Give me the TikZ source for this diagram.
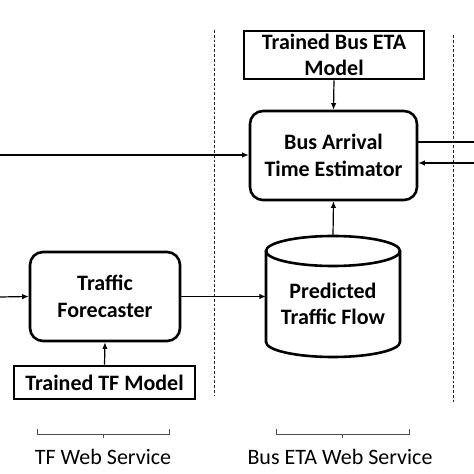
\documentclass[tikz,border=0pt]{standalone}
\usepackage{fontspec}
\setmainfont{Carlito}
\usetikzlibrary{arrows.meta}
\begin{document}
\begin{tikzpicture}[x=1pt,y=1pt,
  thickbox/.style={draw, line width=2.6pt, inner sep=0pt, align=center, font=\fontsize{22}{26.7}\selectfont\bfseries},
  roundbox/.style={thickbox, rounded corners=13pt},
  conn/.style={line width=1.2pt, -{Latex[length=6.5pt,width=5.5pt]}},
  plain/.style={line width=1.2pt},
  sep/.style={line width=1pt, dash pattern=on 2.8pt off 2pt, black!85},
  brk/.style={line width=0.9pt, black!70},
  lbl/.style={inner sep=0pt, font=\fontsize{22}{26.7}\selectfont}]
\useasboundingbox[fill=white] (0,0) rectangle (474,474);
% separators
\draw[sep] (214,444) -- (214,78);
\draw[sep] (453,439) -- (453,72);
% nodes
\node[thickbox, minimum width=180pt, minimum height=48pt] (etam) at (334,419) {Trained Bus ETA\\Model};
\node[roundbox, minimum width=167pt, minimum height=89pt] (est) at (333.5,318.5) {Bus Arrival\\Time Estimator};
\node[roundbox, minimum width=150pt, minimum height=89pt] (tf) at (105,177.5) {Traffic\\Forecaster};
\node[thickbox, minimum width=181pt, minimum height=33pt] (tfm) at (104.5,91.5) {Trained TF Model};
% cylinder
\node[inner sep=0pt, minimum width=134pt, minimum height=121pt] (cyl) at (333,177.5) {};
\draw[line width=2.6pt] (266,223) -- (266,132) arc[start angle=180, end angle=360, x radius=67, y radius=15] -- (400,223);
\draw[line width=2.6pt] (333,223) ellipse[x radius=67, y radius=15];
\node[thickbox, draw=none] (cyltext) at (333,170) {Predicted\\Traffic Flow};
% free ends
\coordinate (inA) at (0,319);
\coordinate (outB) at (474,332);
\coordinate (inB) at (474,311);
\coordinate (inC) at (0,177);
% connectors
\draw[conn] (etam.south) -- (est.north);
\draw[conn] (inA) -- (inA -| est.west);
\draw[plain] (outB -| est.east) -- (outB);
\draw[conn] (inB) -- (inB -| est.east);
\draw[conn] (cyl.north) -- (est.south);
\draw[conn] (inC) -- (tf.west);
\draw[conn] (tf.east) -- (tf.east -| cyl.west);
\draw[conn] (tfm.north) -- (tf.south);
% brackets
\draw[brk] (37,45) -- (37,40) -- (169,40) -- (169,45) (103,40) -- (103,36);
\draw[brk] (276,45) -- (276,40) -- (409,40) -- (409,45) (342,40) -- (342,36);
\node[lbl] (l1) at (103,17) {TF Web Service};
\node[lbl] (l2) at (340,17) {Bus ETA Web Service};
\end{tikzpicture}
\end{document}
